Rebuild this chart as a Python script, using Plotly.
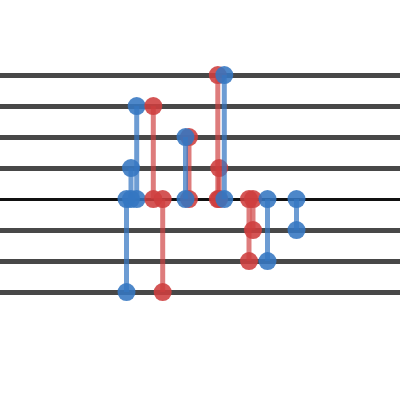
import plotly.graph_objects as go

# segments: x position, start value, end value (drawn in this order)
seg_color = ["blue", "blue", "blue", "red", "red", "red", "blue", "red", "red", "blue", "red", "red", "blue", "blue"]
seg_x     = [126.5, 131, 136.7, 153.3, 162.7, 189, 185.5, 217.8, 219.2, 224.3, 249, 253, 267.5, 296.5]
seg_start = [0, 0, 0, 0, 0, 0, 0, 0, 0, 0, 0, 0, 0, 0]
seg_end   = [-3, 1, 3, 3, -3, 2, 2, 4, 1, 4, -2, -1, -2, -1]

level_ticks = [-3, -2, -1, 0, 1, 2, 3, 4]

marker_rgba = {"blue": "rgba(52,118,194,0.88)", "red": "rgba(206,62,62,0.88)"}
line_rgba = {"blue": "rgba(52,118,194,0.72)", "red": "rgba(206,62,62,0.68)"}

fig = go.Figure()
for c, x, s, e in zip(seg_color, seg_x, seg_start, seg_end):
    fig.add_trace(go.Scatter(
        x=[x, x], y=[s, e], mode="lines+markers",
        line=dict(color=line_rgba[c], width=5),
        marker=dict(color=marker_rgba[c], size=18, line=dict(width=0)),
        showlegend=False, hoverinfo="skip",
    ))

fig.update_layout(
    width=400, height=400,
    margin=dict(l=0, r=0, t=0, b=0),
    paper_bgcolor="white", plot_bgcolor="white",
    xaxis=dict(range=[0, 400], showgrid=False, zeroline=False, showticklabels=False, ticks=""),
    yaxis=dict(range=[-6.48, 6.42], tickvals=level_ticks, showgrid=True, gridcolor="#484848",
               gridwidth=5, zeroline=True, zerolinecolor="#111111", zerolinewidth=3,
               showticklabels=False, ticks=""),
)
fig.write_html(
    "out.html",
    config={"displayModeBar": False},
    post_script="document.body.style.margin='0';document.body.style.overflow='hidden';",
)
